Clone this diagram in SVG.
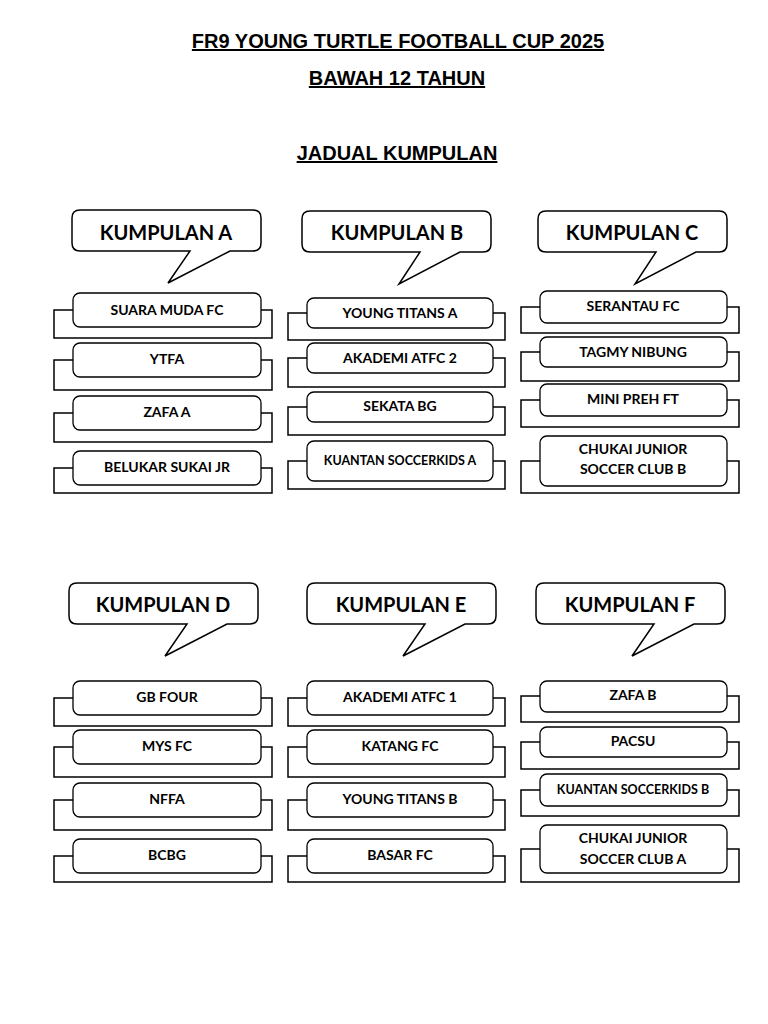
<svg xmlns="http://www.w3.org/2000/svg" width="768" height="1024" viewBox="0 0 768 1024">
<style>
.t{font-family:"Liberation Sans",Arial,sans-serif;font-weight:bold;font-size:20px;text-decoration:underline;text-anchor:middle}
.c{fill:#fff;stroke:#000;stroke-width:1.5}
.ct{font-family:Lato,"Open Sans",sans-serif;font-weight:bold;font-size:20px;text-anchor:middle}
.b{fill:#fff;stroke:#000;stroke-width:1.3}
.br{fill:none;stroke:#000;stroke-width:1.5}
.n{font-family:Lato,"Open Sans",sans-serif;font-weight:bold;font-size:14px;text-anchor:middle}
.s{font-size:12.5px}
</style>
<rect width="768" height="1024" fill="#fff"/>
<text class="t" x="398" y="48">FR9 YOUNG TURTLE FOOTBALL CUP 2025</text>
<text class="t" x="397" y="85">BAWAH 12 TAHUN</text>
<text class="t" x="397" y="160">JADUAL KUMPULAN</text>
<g id="callouts">
<g id="kA"><path class="c" d="M80 210H253Q261 210 261 218V243Q261 251 253 251H230L168 283L190 251H80Q72 251 72 243V218Q72 210 80 210Z"/><text class="ct" x="166" y="240">KUMPULAN A</text></g>
<g id="kB"><path class="c" d="M310 211H483Q491 211 491 219V244Q491 252 483 252H460L399 284L420 252H310Q302 252 302 244V219Q302 211 310 211Z"/><text class="ct" x="397" y="240">KUMPULAN B</text></g>
<g id="kC"><path class="c" d="M546 211H719Q727 211 727 219V244Q727 252 719 252H696L635 284L656 252H546Q538 252 538 244V219Q538 211 546 211Z"/><text class="ct" x="632" y="240">KUMPULAN C</text></g>
<g id="kD"><path class="c" d="M77 583H250Q258 583 258 591V616Q258 624 250 624H227L165 656L187 624H77Q69 624 69 616V591Q69 583 77 583Z"/><text class="ct" x="163" y="612">KUMPULAN D</text></g>
<g id="kE"><path class="c" d="M315 583H488Q496 583 496 591V616Q496 624 488 624H465L403 656L425 624H315Q307 624 307 616V591Q307 583 315 583Z"/><text class="ct" x="401" y="612">KUMPULAN E</text></g>
<g id="kF"><path class="c" d="M544 583H717Q725 583 725 591V616Q725 624 717 624H694L632 656L654 624H544Q536 624 536 616V591Q536 583 544 583Z"/><text class="ct" x="630" y="612">KUMPULAN F</text></g>
</g>
<g id="brackets">
<path class="br" d="M73 310H54V338H272V310H261M73 360H54V390H272V360H261M73 413H54V442H272V413H261M73 468H54V493H272V468H261"/>
<path class="br" d="M307 313H288V340H505V313H493M307 358H288V387H505V358H493M307 407H288V435H505V407H493M307 461H288V489H505V461H493"/>
<path class="br" d="M540 307H521V333H739V307H727M540 352H521V381H739V352H727M540 400H521V427H739V400H727M540 461H521V493H739V461H727"/>
<path class="br" d="M73 698H54V726H272V698H261M73 747H54V777H272V747H261M73 800H54V830H272V800H261M73 856H54V882H272V856H261"/>
<path class="br" d="M307 698H288V726H505V698H493M307 747H288V777H505V747H493M307 800H288V830H505V800H493M307 856H288V882H505V856H493"/>
<path class="br" d="M540 696H521V722H739V696H727M540 742H521V769H739V742H727M540 790H521V816H739V790H727M540 849H521V882H739V849H727"/>
</g>
<g id="A">
<g id="a1"><rect class="b" x="73" y="293" width="188" height="34" rx="7"/><text class="n" x="167" y="315">SUARA MUDA FC</text></g>
<g id="a2"><rect class="b" x="73" y="343" width="188" height="34" rx="7"/><text class="n" x="167" y="364">YTFA</text></g>
<g id="a3"><rect class="b" x="73" y="396" width="188" height="34" rx="7"/><text class="n" x="167" y="417">ZAFA A</text></g>
<g id="a4"><rect class="b" x="73" y="451" width="188" height="34" rx="7"/><text class="n" x="167" y="472">BELUKAR SUKAI JR</text></g>
</g>
<g id="B">
<g id="b1"><rect class="b" x="307" y="298" width="186" height="30" rx="7"/><text class="n" x="400" y="318">YOUNG TITANS A</text></g>
<g id="b2"><rect class="b" x="307" y="343" width="186" height="30" rx="7"/><text class="n" x="400" y="363">AKADEMI ATFC 2</text></g>
<g id="b3"><rect class="b" x="307" y="392" width="186" height="30" rx="7"/><text class="n" x="400" y="411">SEKATA BG</text></g>
<g id="b4"><rect class="b" x="307" y="441" width="186" height="40" rx="7"/><text class="n s" x="400" y="465">KUANTAN SOCCERKIDS A</text></g>
</g>
<g id="C">
<g id="c1"><rect class="b" x="540" y="291" width="187" height="32" rx="7"/><text class="n" x="633" y="311">SERANTAU FC</text></g>
<g id="c2"><rect class="b" x="540" y="337" width="187" height="30" rx="7"/><text class="n" x="633" y="357">TAGMY NIBUNG</text></g>
<g id="c3"><rect class="b" x="540" y="384" width="187" height="32" rx="7"/><text class="n" x="633" y="404">MINI PREH FT</text></g>
<g id="c4"><rect class="b" x="540" y="436" width="187" height="50" rx="7"/><text class="n" x="633" y="454">CHUKAI JUNIOR</text><text class="n" x="633" y="474">SOCCER CLUB B</text></g>
</g>
<g id="D">
<g id="d1"><rect class="b" x="73" y="681" width="188" height="34" rx="7"/><text class="n" x="167" y="702">GB FOUR</text></g>
<g id="d2"><rect class="b" x="73" y="730" width="188" height="34" rx="7"/><text class="n" x="167" y="751">MYS FC</text></g>
<g id="d3"><rect class="b" x="73" y="783" width="188" height="34" rx="7"/><text class="n" x="167" y="804">NFFA</text></g>
<g id="d4"><rect class="b" x="73" y="839" width="188" height="34" rx="7"/><text class="n" x="167" y="860">BCBG</text></g>
</g>
<g id="E">
<g id="e1"><rect class="b" x="307" y="681" width="186" height="34" rx="7"/><text class="n" x="400" y="702">AKADEMI ATFC 1</text></g>
<g id="e2"><rect class="b" x="307" y="730" width="186" height="34" rx="7"/><text class="n" x="400" y="751">KATANG FC</text></g>
<g id="e3"><rect class="b" x="307" y="783" width="186" height="34" rx="7"/><text class="n" x="400" y="804">YOUNG TITANS B</text></g>
<g id="e4"><rect class="b" x="307" y="839" width="186" height="34" rx="7"/><text class="n" x="400" y="860">BASAR FC</text></g>
</g>
<g id="F">
<g id="f1"><rect class="b" x="540" y="681" width="187" height="31" rx="7"/><text class="n" x="633" y="700">ZAFA B</text></g>
<g id="f2"><rect class="b" x="540" y="727" width="187" height="30" rx="7"/><text class="n" x="633" y="746">PACSU</text></g>
<g id="f3"><rect class="b" x="540" y="774" width="187" height="32" rx="7"/><text class="n s" x="633" y="794">KUANTAN SOCCERKIDS B</text></g>
<g id="f4"><rect class="b" x="540" y="825" width="187" height="48" rx="7"/><text class="n" x="633" y="843">CHUKAI JUNIOR</text><text class="n" x="633" y="864">SOCCER CLUB A</text></g>
</g>
</svg>
